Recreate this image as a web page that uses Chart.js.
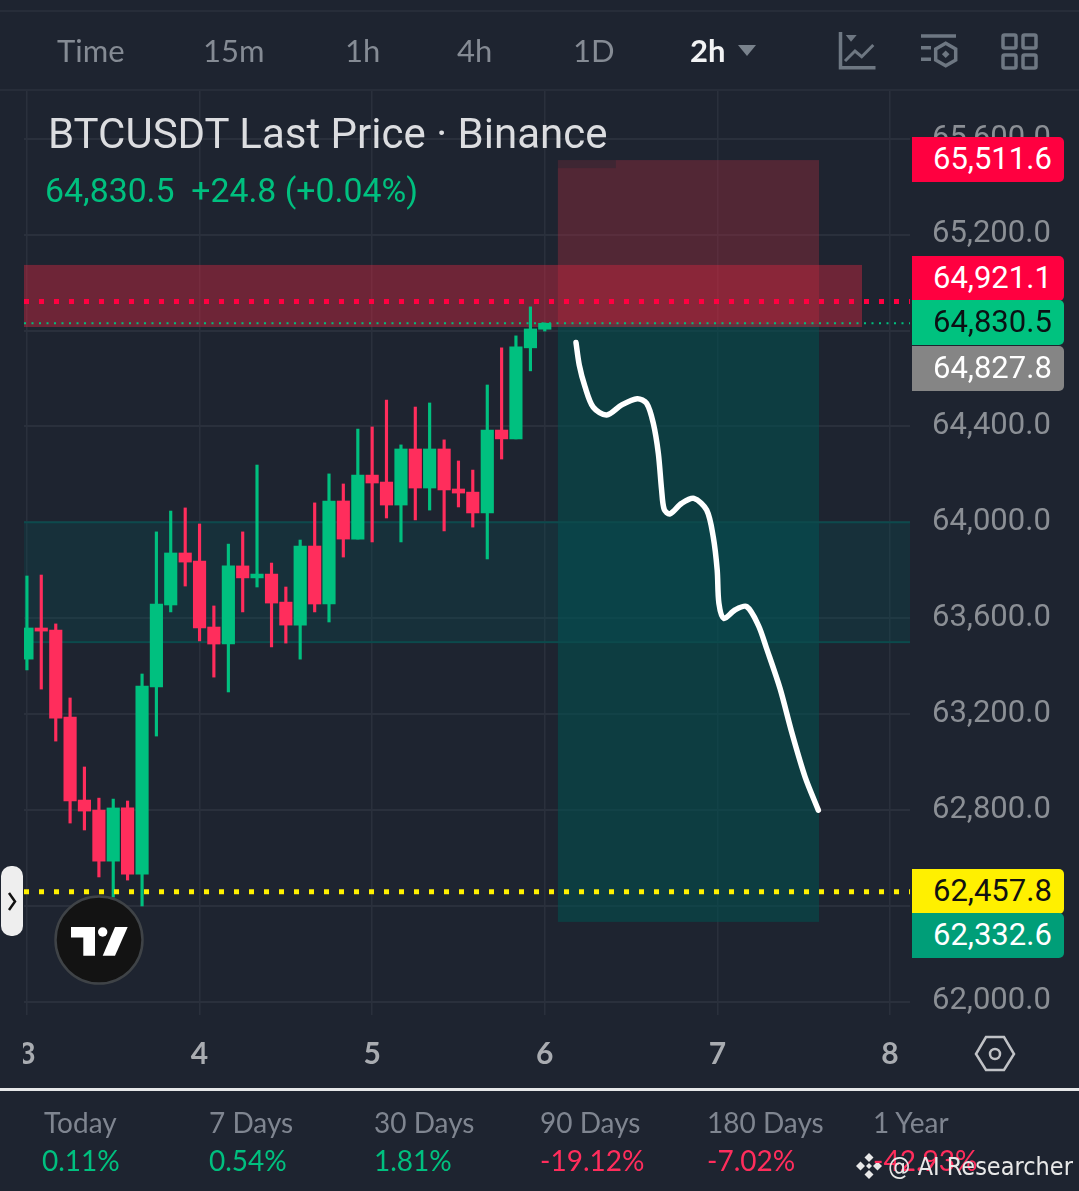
<!DOCTYPE html>
<html>
<head>
<meta charset="utf-8">
<title>BTCUSDT Last Price</title>
<script src="https://cdn.jsdelivr.net/npm/chart.js@4"></script>
<style>
  html, body { margin: 0; padding: 0; background: #1e2430; overflow: hidden; }
  #page { position: relative; width: 1079px; height: 1191px; background: #1e2430; overflow: hidden; }
  #chart { position: absolute; left: 0; top: 0; }
  #art { position: absolute; left: 0; top: 0; }
  .t { position: absolute; white-space: nowrap; line-height: 1; }
  .tab { font: 31px Lato, sans-serif; color: #858b94; top: 31px; }
  .tag { position: absolute; left: 912px; width: 152px; height: 45px; font: 31px Roboto, sans-serif; line-height: 43px; text-indent: 21px; border-radius: 0 5px 5px 0; }
  .rule { position: absolute; left: 0; width: 1079px; }
  .plabel { font: 28px Lato, sans-serif; color: #7f8590; top: 1105px; }
  .pvalue { font: 28px Lato, sans-serif; top: 1143px; }
</style>
</head>
<body>
<div id="page">
  <canvas id="chart" width="1079" height="1191"></canvas>
  <div class="rule" style="top:10px;height:2px;background:#272d39"></div>
  <div class="rule" style="top:89px;height:2px;background:#272d39"></div>
  <div class="rule" style="top:1088px;height:3px;background:#e6e7e8"></div>
  <div style="position:absolute;left:0;top:1036px;width:23px;height:36px;background:#1e2430"></div>
  <div class="t" style="left:48px;top:109px;font:42px Roboto,sans-serif;color:#dcdde0">BTCUSDT Last Price · Binance</div>
  <div class="t" style="left:45px;top:171px;font:33.8px Roboto,sans-serif;color:#00c07f">64,830.5&nbsp; +24.8 (+0.04%)</div>
  <svg id="art" width="1079" height="1191" fill="none">
    <!-- timeframe caret -->
    <path d="M738 45h18l-9 11z" fill="#79828c"/>
    <!-- toolbar icons -->
    <g stroke="#6e7782" stroke-width="3.5">
      <path d="M840.500 32V67.700H875.500"/>
      <path d="M845 61L855 51L861.700 56.700L873.300 45" stroke-width="3"/>
      <path d="M921 36H956M921 47.700H931M921 59.300H931" />
      <path d="M945.700 43.300L955.700 49V60L945.700 65.700L935.700 60V49Z"/>
      <rect x="1003" y="35" width="13" height="13" rx="1.500"/>
      <rect x="1023" y="35" width="13" height="13" rx="1.500"/>
      <rect x="1003" y="55" width="13" height="13" rx="1.500"/>
      <rect x="1023" y="55" width="13" height="13" rx="1.500"/>
    </g>
    <path d="M845.700 35H856.700L851 41.700Z" fill="#6e7782"/>
    <path d="M945.700 50.500L949.500 54.300L945.700 58.100L941.900 54.300Z" fill="#6e7782"/>
    <!-- axis settings hexagon -->
    <path d="M976 1054L986 1037H1004L1014 1054L1004 1070H986Z" stroke="#c0c2c6" stroke-width="2.500"/>
    <circle cx="995" cy="1054" r="5" stroke="#c0c2c6" stroke-width="2.500"/>
    <!-- side handle -->
    <rect x="1" y="866" width="22" height="70" rx="10" fill="#eeeeee"/>
    <path d="M9 893L15 901.500L9 910" stroke="#111" stroke-width="2.500"/>
    <!-- tradingview badge -->
    <circle cx="99" cy="940" r="43.500" fill="#131313" stroke="#3f4347" stroke-width="2.500"/>
    <path d="M71 927H95V955.700H83.300V937.500H71Z" fill="#fff"/>
    <circle cx="102.700" cy="932" r="4.700" fill="#fff"/>
    <path d="M115 927H127.700L115 955.700H102.700Z" fill="#fff"/>
    <!-- watermark logo -->
    <g fill="#e8e8e8">
      <path d="M869 1153l4.500 4.500-4.500 4.500-4.500-4.500z"/>
      <path d="M869 1170l4.500 4.500-4.500 4.500-4.500-4.500z"/>
      <path d="M860.500 1161.500l4.500 4.500-4.500 4.500-4.500-4.500z"/>
      <path d="M877.500 1161.500l4.500 4.500-4.500 4.500-4.500-4.500z"/>
      <path d="M869 1163l3 3-3 3-3-3z"/>
    </g>
  </svg>
  <div class="t" style="left:888px;top:1152px;font:25px 'DejaVu Sans Condensed','DejaVu Sans',sans-serif;color:#e8e8e8" id="mark">@ AI Researcher</div>
</div>
<script>
const candleDays = [3.000, 3.083, 3.167, 3.250, 3.333, 3.417, 3.500, 3.583, 3.667, 3.750, 3.833, 3.917,
                    4.000, 4.083, 4.167, 4.250, 4.333, 4.417, 4.500, 4.583, 4.667, 4.750, 4.833, 4.917,
                    5.000, 5.083, 5.167, 5.250, 5.333, 5.417, 5.500, 5.583, 5.667, 5.750, 5.833, 5.917,
                    6.000];
const opens = [63429, 63559, 63550, 63187, 62841, 62799, 62586, 62808, 62532, 63313, 63655, 63872,
               63838, 63563, 63492, 63818, 63768, 63784, 63667, 63571, 63901, 63659, 64089, 63930,
               64197, 64168, 64072, 64306, 64143, 64306, 64139, 64126, 64039, 64385, 64348, 64728,
               64805.7];
const highs = [63776, 63780, 63576, 63267, 62979, 62849, 62845, 62837, 63367, 63960, 64047, 64060,
               63993, 63651, 63909, 63960, 64239, 63830, 63730, 63926, 64081, 64202, 64160, 64389,
               64398, 64510, 64323, 64481, 64498, 64344, 64256, 64218, 64573, 64728, 64778, 64899,
               64832];
const lows = [63384, 63304, 63087, 62745, 62716, 62520, 62436, 62507, 62399, 63108, 63626, 63734,
              63505, 63354, 63292, 63626, 63730, 63480, 63496, 63429, 63626, 63584, 63855, 63930,
              63918, 64018, 63918, 64010, 64051, 63964, 64064, 63980, 63847, 64264, 64348, 64632,
              64798];
const closes = [63559, 63546, 63183, 62837, 62795, 62586, 62808, 62532, 63317, 63659, 63872, 63834,
                63559, 63492, 63818, 63768, 63784, 63663, 63571, 63901, 63659, 64089, 63930, 64197,
                64164, 64072, 64306, 64143, 64306, 64135, 64122, 64039, 64385, 64348, 64732, 64807,
                64830.5];

// hand drawn projection
const sketchDays = [6.181, 6.200, 6.233, 6.281, 6.359, 6.446, 6.536, 6.590, 6.629, 6.658, 6.677, 6.692, 6.725, 6.793,
                    6.864, 6.938, 6.976, 6.999, 7.009, 7.038, 7.102, 7.170, 7.237, 7.285, 7.363, 7.430, 7.508, 7.585];
const sketchPrices = [64750, 64656, 64566, 64480, 64448, 64490, 64516, 64497, 64413, 64288, 64135, 64054, 64035, 64079,
                      64100, 64051, 63940, 63801, 63662, 63599, 63634, 63648, 63571, 63474, 63307, 63126, 62938, 62799];

const yTicks = [62000, 62400, 62800, 63200, 63600, 64000, 64400, 64800, 65200, 65600];
const yTickLabels = ["62,000.0", "", "62,800.0", "63,200.0", "63,600.0", "64,000.0", "64,400.0", "", "65,200.0", "65,600.0"];
const xTicks = [3, 4, 5, 6, 7, 8];
const yRange = [61944, 65804];
const xRange = [2.983, 8.116];

const stopPrice = 65511.6;
const resistancePrice = 64921.1;
const lastPrice = 64830.5;
const entryPrice = 64827.8;
const supportPrice = 62457.8;
const targetPrice = 62332.6;
const positionDays = [6.076, 7.589];
const positionNotchDays = [6.076, 6.412];
const positionNotchPrices = [stopPrice, 65478];
const supplyDays = [2.983, 7.838];
const supplyPrices = [64815, 65074];
const demandDays = [2.983, 8.116];
const demandPrices = [63500, 64000];

const tabs = ["Time", "15m", "1h", "4h", "1D", "2h"];
const tabLeft = [57, 203, 345, 457, 573, 690];
const periodLabels = ["Today", "7 Days", "30 Days", "90 Days", "180 Days", "1 Year"];
const periodValues = ["0.11%", "0.54%", "1.81%", "-19.12%", "-7.02%", "-42.93%"];
const periodLeft = [44, 209, 374, 540, 707, 873];
const tagTexts = ["65,511.6", "64,921.1", "64,830.5", "64,827.8", "62,457.8", "62,332.6"];
const tagTops = [137, 256, 300, 346, 869, 913];
const tagFills = ["#ff0040", "#ff0040", "#00c27f", "#858585", "#fff000", "#009e78"];
const tagInks = ["#fff", "#fff", "#0b1014", "#fff", "#111", "#fff"];

const UP = "#00c07f", DOWN = "#ff2d5c";
const page = document.getElementById("page");
const mark = document.getElementById("mark");

function addText(cls, text, left, color) {
    const d = document.createElement("div");
    d.className = "t " + cls;
    d.textContent = text;
    d.style.left = left + "px";
    if (color) d.style.color = color;
    page.insertBefore(d, mark);
    return d;
}
tabs.forEach((t, i) => {
    const d = addText("tab", t, tabLeft[i], t === "2h" ? "#f2f3f4" : null);
    if (t === "2h") d.style.fontWeight = "bold";
});
periodLabels.forEach((t, i) => {
    addText("plabel", t, periodLeft[i]);
    addText("pvalue", periodValues[i], i === 0 ? 42 : periodLeft[i], periodValues[i][0] === "-" ? "#ff2d5c" : "#00c07f");
});
tagTexts.forEach((t, i) => {
    const d = document.createElement("div");
    d.className = "tag";
    d.textContent = t;
    d.style.top = tagTops[i] + "px";
    d.style.background = tagFills[i];
    d.style.color = tagInks[i];
    page.appendChild(d);
});

const candleColors = opens.map((o, i) => closes[i] >= o ? UP : DOWN);

function levelLine(price, color, width, dash) {
    return {
        type: "line",
        data: [{ x: xRange[0], y: price }, { x: xRange[1], y: price }],
        borderColor: color,
        borderWidth: width,
        borderDash: dash,
        pointRadius: 0,
        order: 1
    };
}

// shaded zones sit above the grid but under the candles
const zonesPlugin = {
    id: "zones",
    beforeDatasetsDraw(chart) {
        const { ctx, scales: { x, y } } = chart;
        const box = (days, prices, fill) => {
            const left = x.getPixelForValue(days[0]), right = x.getPixelForValue(days[1]);
            const top = y.getPixelForValue(Math.max(prices[0], prices[1]));
            const bottom = y.getPixelForValue(Math.min(prices[0], prices[1]));
            ctx.fillStyle = fill;
            ctx.fillRect(left, top, right - left, bottom - top);
            return { left, right, top, bottom };
        };
        ctx.save();
        box(positionDays, [entryPrice, targetPrice], "rgba(0,81,80,0.57)");
        box(positionDays, [stopPrice, entryPrice], "rgba(160,46,63,0.4)");
        box(positionNotchDays, positionNotchPrices, "rgba(30,36,48,0.35)");
        const d = box(demandDays, demandPrices, "rgba(0,90,95,0.22)");
        ctx.fillStyle = "#0c4a4c";
        ctx.fillRect(d.left, d.top - 1, d.right - d.left, 2);
        ctx.fillRect(d.left, d.bottom - 1, d.right - d.left, 2);
        box(supplyDays, supplyPrices, "rgba(208,40,64,0.45)");
        ctx.restore();
    }
};

new Chart(document.getElementById("chart"), {
    type: "bar",
    data: {
        datasets: [
            {
                type: "line",
                data: sketchDays.map((d, i) => ({ x: d, y: sketchPrices[i] })),
                borderColor: "#ffffff",
                borderWidth: 5.5,
                borderCapStyle: "round",
                borderJoinStyle: "round",
                tension: 0.3,
                pointRadius: 0,
                order: 0
            },
            levelLine(resistancePrice, "#ff0040", 5, [5, 10]),
            levelLine(lastPrice, "#00c07f", 2, [2, 5.5]),
            levelLine(supportPrice, "#fff000", 5, [5, 10]),
            {
                data: candleDays.map((d, i) => ({ x: d, y: [opens[i], closes[i]] })),
                backgroundColor: candleColors,
                barThickness: 12.5,
                grouped: false,
                order: 2
            },
            {
                data: candleDays.map((d, i) => ({ x: d, y: [lows[i], highs[i]] })),
                backgroundColor: candleColors,
                barThickness: 2.5,
                grouped: false,
                order: 3
            }
        ]
    },
    options: {
        responsive: false,
        animation: false,
        layout: { padding: { left: 24, top: 90, right: 0, bottom: 0 } },
        plugins: { legend: { display: false }, tooltip: { enabled: false } },
        scales: {
            x: {
                type: "linear",
                min: xRange[0],
                max: xRange[1],
                offset: false,
                border: { display: false },
                grid: { color: "#2a303c", lineWidth: 1.5, offset: false, drawTicks: false },
                afterBuildTicks(scale) { scale.ticks = xTicks.map(v => ({ value: v })); },
                afterFit(scale) { scale.height = 176; scale.paddingLeft = 0; scale.paddingRight = 0; },
                ticks: {
                    padding: 21,
                    maxRotation: 0,
                    autoSkip: false,
                    color: "#a9acb1",
                    font: { family: "Lato", size: 30, weight: "bold" },
                    callback: v => String(v)
                }
            },
            y: {
                position: "right",
                min: yRange[0],
                max: yRange[1],
                border: { display: false },
                grid: { color: "#2a303c", lineWidth: 2, drawTicks: false },
                afterBuildTicks(scale) { scale.ticks = yTicks.map(v => ({ value: v })); },
                afterFit(scale) { scale.width = 169; },
                ticks: {
                    padding: 22,
                    autoSkip: false,
                    color: "#8b8f95",
                    font: { family: "Roboto", size: 31 },
                    callback: v => yTickLabels[yTicks.indexOf(v)]
                }
            }
        }
    },
    plugins: [zonesPlugin]
});
</script>
</body>
</html>
